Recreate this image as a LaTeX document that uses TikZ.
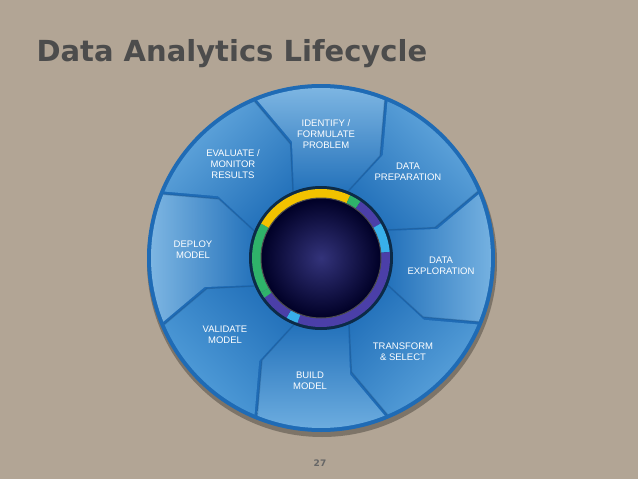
\documentclass[tikz,border=0pt]{standalone}
\usepackage{fontspec}
\setmainfont{Liberation Sans}
\newfontfamily\titlefont{DejaVu Sans}
\begin{document}
\begin{tikzpicture}[x=1pt,y=-1pt,
  lbl/.style={text=white,font=\fontsize{9.5}{11}\selectfont,align=center,inner sep=0pt}]
\definecolor{bg}{HTML}{B2A595}
\definecolor{dblue}{HTML}{1F6BB5}
\definecolor{lblue}{HTML}{3E97DA}
\definecolor{ringY}{HTML}{F2C200}
\definecolor{ringG}{HTML}{2FB36A}
\definecolor{ringP}{HTML}{4B3FA8}
\definecolor{ringL}{HTML}{38B0EA}
\fill[bg] (0,0) rectangle (638,479);
\useasboundingbox (0,0) rectangle (638,479);
\node[anchor=west,font=\titlefont\bfseries\fontsize{29}{32}\selectfont,text=black!70,
  path picture={}] (title) at (33,54) {Data Analytics Lifecycle};
\begin{scope}[shift={(321,258)},y=1pt]
\fill[black!30!bg] (1,-4) circle (175);
\fill[dblue] (0,0) circle (174);
\foreach \a/\sh in {90/60,45/75,0/65,-45/80,-90/70,-135/85,180/60,135/75}{
  \shade[top color=lblue!\sh!white!90!dblue,bottom color=dblue!85!lblue,shading angle=\a-90]
   (\a+22:72) -- (\a+14:120) -- (\a+22:170) arc[start angle=\a+22,end angle=\a-22,radius=170]
   -- (\a-30:118) -- (\a-22:72) arc[start angle=\a-22,end angle=\a+22,radius=72] -- cycle;
  \draw[dblue!70!black,opacity=0.35,line width=1.2pt] (\a-22:170) -- (\a-30:118) -- (\a-22:72);
}
\fill[black!60!dblue] (0,0) circle (72);
\foreach \s/\e/\c in {215/150/ringG,150/65/ringY,65/55/ringG,55/30/ringP,30/5/ringL,5/-110/ringP,-110/-120/ringL,-120/-150/ringP,-150/-145/ringG}{
  \fill[\c] (\s:69) arc[start angle=\s,end angle=\e,radius=69] -- (\e:60) arc[start angle=\e,end angle=\s,radius=60] -- cycle;}
\shade[inner color=blue!35!black!80,outer color=black!85!blue] (0,0) circle (60);
\draw[black!70,line width=1pt] (0,0) circle (60);
\end{scope}
\node[lbl] (n1) at (326,134) {IDENTIFY /\\FORMULATE\\PROBLEM};
\node[lbl] (n2) at (408,172) {DATA\\PREPARATION};
\node[lbl] (n3) at (441,266) {DATA\\EXPLORATION};
\node[lbl] (n4) at (403,352) {TRANSFORM\\\& SELECT};
\node[lbl] (n5) at (310,381) {BUILD\\MODEL};
\node[lbl] (n6) at (225,335) {VALIDATE\\MODEL};
\node[lbl] (n7) at (193,250) {DEPLOY\\MODEL};
\node[lbl] (n8) at (233,164) {EVALUATE /\\MONITOR\\RESULTS};
\node[font=\titlefont\bfseries\fontsize{9}{10}\selectfont,text=black!60] (pg) at (320,463) {27};
\end{tikzpicture}
\end{document}
